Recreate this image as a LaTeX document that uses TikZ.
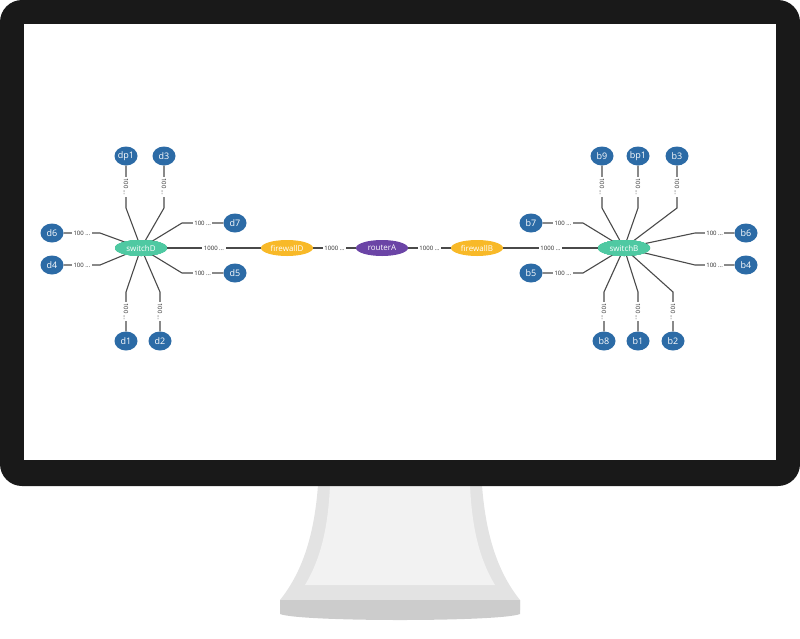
\documentclass[tikz,border=0pt]{standalone}
\usepackage{fontspec}
\setmainfont{Open Sans}
\usetikzlibrary{shapes.geometric}
\definecolor{hostblue}{HTML}{2C6BA6}
\definecolor{switchgreen}{HTML}{4FC9A2}
\definecolor{fwyellow}{HTML}{F8B928}
\definecolor{routerpurple}{HTML}{6B44A6}
\definecolor{linkgray}{HTML}{4A4A4A}
\tikzset{
  host/.style={draw=none, ellipse, fill=hostblue, text=white, minimum width=23pt, minimum height=19pt, inner sep=0pt, font=\fontsize{9}{9}\selectfont},
  hub/.style={draw=none, ellipse, text=white, minimum width=52pt, minimum height=16pt, inner sep=0pt, font=\fontsize{8}{8}\selectfont},
  lbl/.style={fill=white, inner sep=1.5pt, font=\fontsize{6}{6}\selectfont, text=black!85},
  link/.style={draw=linkgray, line width=1.1pt}
}
\begin{document}
\begin{tikzpicture}[x=1pt, y=-1pt]
    \useasboundingbox (0,0) rectangle (800,638);
    % stand
    \fill[gray!22] (318,485) -- (482,485) .. controls (486,540) and (500,575) .. (520,600) -- (520,610) -- (280,610) -- (280,600) .. controls (300,575) and (314,540) .. (318,485) -- cycle;
    \fill[gray!40] (280,600) -- (520,600) -- (520,614) .. controls (500,622) and (300,622) .. (280,614) -- cycle;
    \fill[gray!10] (330,485) -- (470,485) .. controls (472,530) and (480,560) .. (495,585) -- (305,585) .. controls (320,560) and (328,530) .. (330,485) -- cycle;
    % monitor
    \fill[black!90, rounded corners=22pt] (0,0) rectangle (800,486);
    \fill[white] (24,24) rectangle (776,460);

    % core nodes
    \node[hub, fill=switchgreen]   (switchD)   at (141,248) {switchD};
    \node[hub, fill=fwyellow]      (firewallD) at (287,248) {firewallD};
    \node[hub, fill=routerpurple]  (routerA)   at (382,248) {routerA};
    \node[hub, fill=fwyellow]      (firewallB) at (477,248) {firewallB};
    \node[hub, fill=switchgreen]   (switchB)   at (624,248) {switchB};

    \draw[link] (switchD) -- node[lbl] {1000 ...} (firewallD);
    \draw[link] (firewallD) -- node[lbl] {1000 ...} (routerA);
    \draw[link] (routerA) -- node[lbl] {1000 ...} (firewallB);
    \draw[link] (firewallB) -- node[lbl] {1000 ...} (switchB);

    % hosts of switchD
    \foreach \h/\x/\y/\bx/\by/\r in {dp1/126/156/126/208/-90, d3/164/156/164/208/-90,
        d6/52/233/100/233/0, d4/52/265/100/265/0, d7/235/223/182/223/0, d5/235/273/182/273/0,
        d1/126/341/126/292/-90, d2/160/341/160/292/-90} {
      \node[host] (\h) at (\x,\y) {\h};
      \coordinate (k\h) at (\bx,\by);
      \draw[link] (switchD.center) -- (k\h) -- node[lbl, rotate=\r] {100 ...} (\h);
      \node[hub, fill=switchgreen] at (switchD) {switchD};
    }

    % hosts of switchB
    \foreach \h/\x/\y/\bx/\by/\r in {b9/602/156/602/208/-90, bp1/638/156/638/208/-90, b3/677/156/677/208/-90,
        b7/531/223/583/223/0, b5/531/273/583/273/0, b6/746/233/695/233/0, b4/746/265/695/265/0,
        b8/604/341/604/292/-90, b1/638/341/638/292/-90, b2/673/341/673/292/-90} {
      \node[host] (\h) at (\x,\y) {\h};
      \coordinate (k\h) at (\bx,\by);
      \draw[link] (switchB.center) -- (k\h) -- node[lbl, rotate=\r] {100 ...} (\h);
      \node[hub, fill=switchgreen] at (switchB) {switchB};
    }
  \end{tikzpicture}
\end{document}
